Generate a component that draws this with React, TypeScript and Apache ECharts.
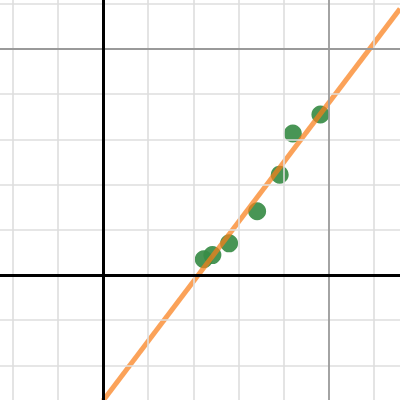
import { useEffect, useRef } from 'react';
import * as echarts from 'echarts';

// visible window (graph units; one minor grid square = 1)
const X_RANGE = [-2.279, 6.571];
const Y_RANGE = [-2.765, 6.084];

// grid lines
const MINOR_X = [-2, -1, 1, 2, 3, 4, 6];
const MINOR_Y = [-2, -1, 1, 2, 3, 4, 6];
const MAJOR_X = [5];
const MAJOR_Y = [5];

// data points
const POINT_X = [2.23, 2.42, 2.79, 3.41, 3.91, 4.2, 4.81];
const POINT_Y = [0.35, 0.44, 0.7, 1.41, 2.22, 3.13, 3.55];

// fitted line, end points
const LINE_X = [0, 6.571];
const LINE_Y = [-2.78, 5.89];

const MINOR_COLOR = '#dedede';
const MAJOR_COLOR = '#9a9a9a';

export default function App() {
  const chartRef = useRef<HTMLDivElement>(null);

  useEffect(() => {
    document.body.style.margin = '0';
    if (!chartRef.current) return;
    const chart = echarts.init(chartRef.current, undefined, { renderer: 'svg' });

    const gridLines = [
      ...MINOR_X.map((v) => ({ xAxis: v, lineStyle: { color: MINOR_COLOR, width: 1.6 } })),
      ...MINOR_Y.map((v) => ({ yAxis: v, lineStyle: { color: MINOR_COLOR, width: 1.6 } })),
      ...MAJOR_X.map((v) => ({ xAxis: v, lineStyle: { color: MAJOR_COLOR, width: 1.8 } })),
      ...MAJOR_Y.map((v) => ({ yAxis: v, lineStyle: { color: MAJOR_COLOR, width: 1.8 } })),
      { xAxis: 0, lineStyle: { color: '#000', width: 3 } },
      { yAxis: 0, lineStyle: { color: '#000', width: 3 } },
    ];

    chart.setOption({
      animation: false,
      backgroundColor: '#fff',
      grid: { left: 0, right: 0, top: 0, bottom: 0 },
      xAxis: { type: 'value', min: X_RANGE[0], max: X_RANGE[1], show: false },
      yAxis: { type: 'value', min: Y_RANGE[0], max: Y_RANGE[1], show: false },
      series: [
        {
          type: 'line',
          data: [],
          z: 1,
          markLine: {
            silent: true,
            symbol: 'none',
            label: { show: false },
            lineStyle: { type: 'solid' },
            data: gridLines,
          },
        },
        {
          type: 'scatter',
          z: 2,
          data: POINT_X.map((x, i) => [x, POINT_Y[i]]),
          symbolSize: 18,
          itemStyle: { color: '#388c46', opacity: 0.92 },
        },
        {
          type: 'line',
          z: 3,
          data: LINE_X.map((x, i) => [x, LINE_Y[i]]),
          showSymbol: false,
          lineStyle: { color: '#fa7e19', width: 5, opacity: 0.72 },
        },
      ],
    });

    return () => chart.dispose();
  }, []);

  return <div ref={chartRef} style={{ width: 400, height: 400 }} />;
}
